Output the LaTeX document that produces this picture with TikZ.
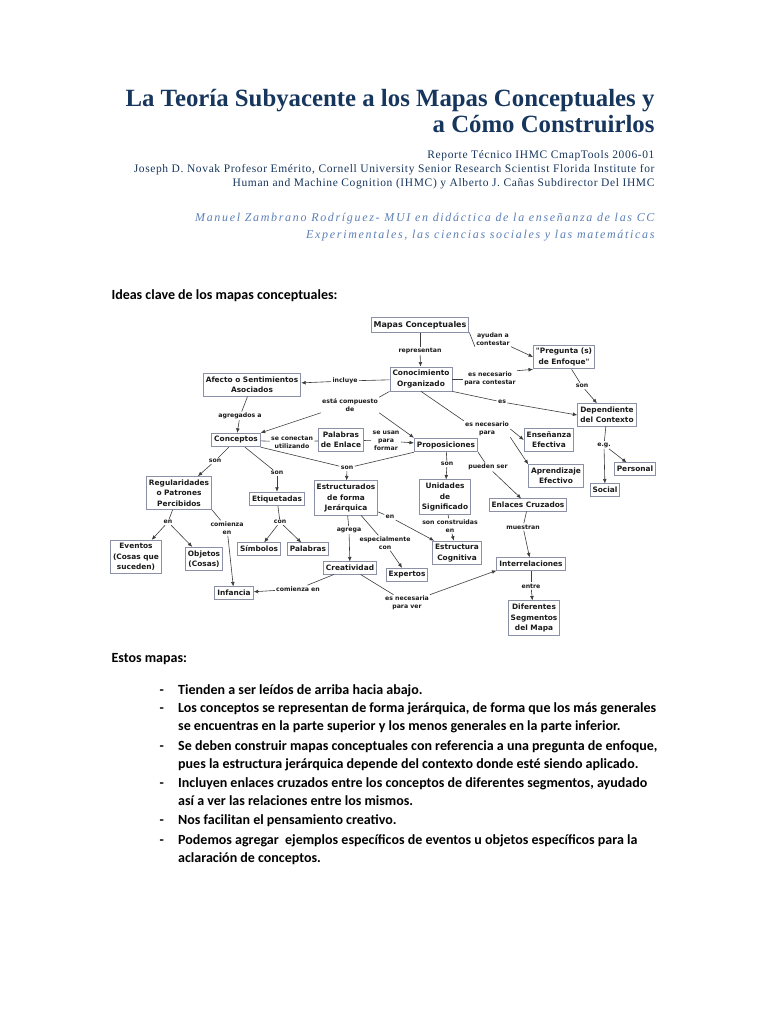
\documentclass[tikz,border=0pt]{standalone}
\usepackage{fontspec}
\usepackage{xcolor}
\setmainfont{Carlito}
\newfontfamily\titulo{Liberation Serif}
\newfontfamily\subtit{Liberation Serif}[LetterSpace=5.5]
\newfontfamily\cursiva{Liberation Serif}[LetterSpace=14]
\newfontfamily\mapa{DejaVu Sans}
\usetikzlibrary{positioning, arrows.meta}
\definecolor{azultit}{HTML}{17365D}
\definecolor{azulcla}{HTML}{5B7FB5}
\definecolor{cajagris}{HTML}{8C90A6}
\definecolor{trazo}{HTML}{3C3C3C}
\definecolor{tinta}{HTML}{1A1A1A}

\begin{document}
\begin{tikzpicture}[x=1pt, y=-1pt,
  concepto/.style={draw=cajagris, line width=0.9pt, fill=white, align=center,
    font=\mapa\bfseries\fontsize{7.4}{10.3}\selectfont, text=tinta,
    inner xsep=2.5pt, inner ysep=3.2pt},
  enlace/.style={align=center, font=\mapa\bfseries\fontsize{6.2}{7.8}\selectfont,
    text=tinta, inner sep=1.2pt},
  linea/.style={draw=trazo, line width=0.6pt},
  flecha/.style={linea, -{Latex[length=4.5pt, width=3.8pt]}},
  cuerpo/.style={anchor=base west, font=\bfseries\fontsize{14}{16}\selectfont}]
  \useasboundingbox (0,0) rectangle (768,1024);

  % Cabecera
  \node[anchor=base east, font=\titulo\bfseries\fontsize{24.8}{27}\selectfont, text=azultit]
    (tit1) at (658,107) {La Teoría Subyacente a los Mapas Conceptuales y};
  \node[anchor=base east, font=\titulo\bfseries\fontsize{24.8}{27}\selectfont, text=azultit]
    (tit2) at (658,133) {a Cómo Construirlos};
  \node[anchor=base east, font=\subtit\fontsize{11.5}{13}\selectfont, text=azultit]
    (ref1) at (658,159) {Reporte Técnico IHMC CmapTools 2006-01};
  \node[anchor=base east, font=\subtit\fontsize{11.5}{13}\selectfont, text=azultit]
    (ref2) at (658,173) {Joseph D. Novak Profesor Emérito, Cornell University Senior Research Scientist Florida Institute for};
  \node[anchor=base east, font=\subtit\fontsize{11.5}{13}\selectfont, text=azultit]
    (ref3) at (658,187) {Human and Machine Cognition (IHMC) y Alberto J. Cañas Subdirector Del IHMC};
  \node[anchor=base east, font=\cursiva\itshape\fontsize{12}{14}\selectfont, text=azulcla]
    (aut1) at (658,222) {Manuel Zambrano Rodríguez- MUI en didáctica de la enseñanza de las CC};
  \node[anchor=base east, font=\cursiva\itshape\fontsize{12}{14}\selectfont, text=azulcla]
    (aut2) at (658,239) {Experimentales, las ciencias sociales y las matemáticas};

  \node[cuerpo] (ideas) at (108,299) {Ideas clave de los mapas conceptuales:};

  % Conceptos
  \node[concepto, font=\mapa\bfseries\fontsize{8}{10.3}\selectfont] (mapas) at (420,325) {Mapas Conceptuales};
  \node[concepto] (conoc) at (421,379) {Conocimiento\\Organizado};
  \node[concepto] (preg) at (564,357) {"Pregunta (s)\\de Enfoque"};
  \node[concepto] (afecto) at (252,385) {Afecto o Sentimientos\\Asociados};
  \node[concepto] (depen) at (607,415) {Dependiente\\del Contexto};
  \node[concepto] (concep) at (236,440) {Conceptos};
  \node[concepto] (palenl) at (341,440) {Palabras\\de Enlace};
  \node[concepto] (propos) at (446,445) {Proposiciones};
  \node[concepto] (ensen) at (549,440) {Enseñanza\\Efectiva};
  \node[concepto] (aprend) at (556,476) {Aprendizaje\\Efectivo};
  \node[concepto] (person) at (635,469) {Personal};
  \node[concepto] (social) at (605,490) {Social};
  \node[concepto] (regul) at (179,493) {Regularidades\\o Patrones\\Percibidos};
  \node[concepto] (etiq) at (277,499) {Etiquetadas};
  \node[concepto] (estruc) at (346,498) {Estructurados\\de forma\\Jerárquica};
  \node[concepto] (unid) at (445,497) {Unidades\\de\\Significado};
  \node[concepto] (cruz) at (528,505) {Enlaces Cruzados};
  \node[concepto] (event) at (136,557) {Eventos\\(Cosas que\\suceden)};
  \node[concepto] (objet) at (204,559) {Objetos\\(Cosas)};
  \node[concepto] (simb) at (259,549) {Símbolos};
  \node[concepto] (palab) at (308,549) {Palabras};
  \node[concepto] (creat) at (350,568) {Creatividad};
  \node[concepto] (exper) at (407,575) {Expertos};
  \node[concepto] (cogn) at (457,553) {Estructura\\Cognitiva};
  \node[concepto] (inter) at (531,564) {Interrelaciones};
  \node[concepto] (difer) at (534,618) {Diferentes\\Segmentos\\del Mapa};
  \node[concepto] (infan) at (234,593) {Infancia};

  % Palabras de enlace
  \node[enlace] (l-repr) at (420,351) {representan};
  \node[enlace] (l-ayud) at (493,339) {ayudan a\\contestar};
  \node[enlace] (l-incl) at (345,381) {incluye};
  \node[enlace] (l-cont) at (490,379) {es necesario\\para contestar};
  \node[enlace] (l-comp) at (350,405) {está compuesto\\de};
  \node[enlace] (l-agre) at (240,416) {agregados a};
  \node[enlace] (l-es) at (502,402) {es};
  \node[enlace] (l-son1) at (582,386) {son};
  \node[enlace] (l-nece) at (487,429) {es necesario\\para};
  \node[enlace] (l-conec) at (292,442) {se conectan\\utilizando};
  \node[enlace] (l-usan) at (386,441) {se usan\\para\\formar};
  \node[enlace] (l-son2) at (215,461) {son};
  \node[enlace] (l-son3) at (277,473) {son};
  \node[enlace] (l-son4) at (347,468) {son};
  \node[enlace] (l-son5) at (447,464) {son};
  \node[enlace] (l-pued) at (488,467) {pueden ser};
  \node[enlace] (l-eg) at (604,445) {e.g.};
  \node[enlace] (l-en1) at (168,522) {en};
  \node[enlace] (l-com1) at (227,528) {comienza\\en};
  \node[enlace] (l-con) at (280,522) {con};
  \node[enlace] (l-en2) at (390,517) {en};
  \node[enlace] (l-agrg) at (349,530) {agrega};
  \node[enlace] (l-espe) at (385,543) {especialmente\\con};
  \node[enlace] (l-cons) at (450,526) {son construidas\\en};
  \node[enlace] (l-mues) at (523,527) {muestran};
  \node[enlace] (l-entr) at (531,586) {entre};
  \node[enlace] (l-com2) at (298,589) {comienza en};
  \node[enlace] (l-ver) at (407,603) {es necesaria\\para ver};

  % Conexiones
  \draw[linea] (mapas) -- (l-repr);
  \draw[flecha] (l-repr) -- (conoc);
  \draw[linea] (mapas.south east) -- (l-ayud.south west);
  \draw[flecha] (l-ayud.south east) -- (preg.west);
  \draw[linea] (conoc) -- (l-incl);
  \draw[flecha] (l-incl) -- (afecto);
  \draw[linea] (conoc) -- (l-cont);
  \draw[flecha] (l-cont.north east) -- (preg.south west);
  \draw[linea] (conoc.south west) -- (l-comp.north east);
  \draw[flecha] (l-comp.south west) -- (concep.north east);
  \draw[flecha] (l-comp.south east) -- (propos.north west);
  \draw[linea] (conoc.south east) -- (l-es);
  \draw[flecha] (l-es) -- (depen.west);
  \draw[linea] (conoc.south) -- (l-nece.north west);
  \draw[flecha] (l-nece.east) -- (ensen.west);
  \draw[flecha] (l-nece.south east) -- (aprend.north west);
  \draw[linea] (preg) -- (l-son1);
  \draw[flecha] (l-son1) -- (depen);
  \draw[linea] (afecto) -- (l-agre);
  \draw[flecha] (l-agre) -- (concep);
  \draw[linea] (concep) -- (l-conec);
  \draw[linea] (l-conec) -- (palenl);
  \draw[linea] (palenl) -- (l-usan);
  \draw[flecha] (l-usan) -- (propos);
  \draw[linea] (concep) -- (l-son2);
  \draw[flecha] (l-son2) -- (regul);
  \draw[linea] (concep) -- (l-son3);
  \draw[flecha] (l-son3) -- (etiq);
  \draw[linea] (concep.south east) -- (l-son4);
  \draw[linea] (propos.south west) -- (l-son4);
  \draw[flecha] (l-son4) -- (estruc);
  \draw[linea] (propos) -- (l-son5);
  \draw[flecha] (l-son5) -- (unid);
  \draw[linea] (propos.south east) -- (l-pued);
  \draw[flecha] (l-pued) -- (cruz);
  \draw[linea] (depen) -- (l-eg);
  \draw[flecha] (l-eg) -- (social);
  \draw[flecha] (l-eg) -- (person);
  \draw[linea] (regul) -- (l-en1);
  \draw[flecha] (l-en1) -- (event);
  \draw[flecha] (l-en1) -- (objet);
  \draw[linea] (regul.south east) -- (l-com1);
  \draw[flecha] (l-com1) -- (infan);
  \draw[linea] (etiq) -- (l-con);
  \draw[flecha] (l-con) -- (simb);
  \draw[flecha] (l-con) -- (palab);
  \draw[linea] (estruc) -- (l-agrg);
  \draw[flecha] (l-agrg) -- (creat);
  \draw[linea] (estruc) -- (l-espe);
  \draw[flecha] (l-espe) -- (exper);
  \draw[linea] (estruc) -- (l-en2);
  \draw[flecha] (l-en2) -- (cogn);
  \draw[linea] (unid) -- (l-cons);
  \draw[flecha] (l-cons) -- (cogn);
  \draw[linea] (cruz) -- (l-mues);
  \draw[flecha] (l-mues) -- (inter);
  \draw[linea] (inter) -- (l-entr);
  \draw[flecha] (l-entr) -- (difer);
  \draw[linea] (creat) -- (l-com2);
  \draw[flecha] (l-com2) -- (infan);
  \draw[linea] (creat) -- (l-ver);
  \draw[flecha] (l-ver) -- (inter.south west);

  % Lista
  \node[cuerpo] (estos) at (108,662) {Estos mapas:};
  \foreach \y in {694, 712, 750, 787, 824, 844}
    \node[cuerpo] at (156,\y) {-};
  \foreach \y/\t in {694/{Tienden a ser leídos de arriba hacia abajo.},
      712/{Los conceptos se representan de forma jerárquica, de forma que los más generales},
      730/{se encuentras en la parte superior y los menos generales en la parte inferior.},
      750/{Se deben construir mapas conceptuales con referencia a una pregunta de enfoque,},
      768/{pues la estructura jerárquica depende del contexto donde esté siendo aplicado.},
      787/{Incluyen enlaces cruzados entre los conceptos de diferentes segmentos, ayudado},
      805/{así a ver las relaciones entre los mismos.},
      824/{Nos facilitan el pensamiento creativo.},
      844/{Podemos agregar\ \ ejemplos específicos de eventos u objetos específicos para la},
      862/{aclaración de conceptos.}}
    \node[cuerpo, inner xsep=0pt] at (178,\y) {\t};
\end{tikzpicture}
\end{document}
